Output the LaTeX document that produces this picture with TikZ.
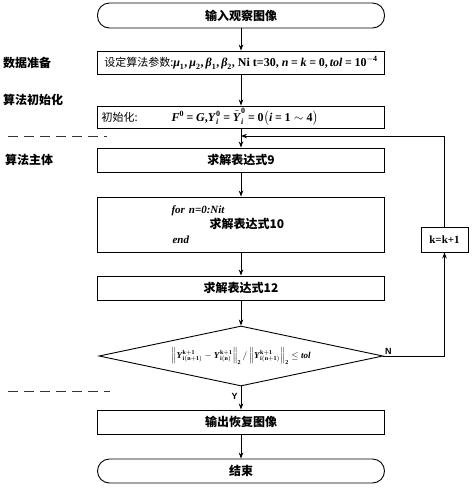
\documentclass[tikz,border=0pt]{standalone}
\usepackage{fontspec}
\usepackage{amsmath,amssymb}
\setmainfont{Liberation Serif}
\newfontfamily\cjk{Noto Sans CJK SC}
\newfontfamily\labfont{Liberation Sans}
\usetikzlibrary{shapes.geometric}
\usetikzlibrary{positioning}
\usetikzlibrary{arrows.meta}
\tikzset{
    stepbox/.style = {rectangle, draw=black, line width=0.9pt, minimum width=287pt, minimum height=24pt, inner sep=2pt, align=center, font=\cjk\bfseries\fontsize{12}{14}\selectfont},
    termbox/.style = {stepbox, rounded corners=12pt},
    checkbox/.style = {diamond, draw=black, line width=0.9pt, minimum width=284pt, minimum height=60pt, inner sep=0pt},
    incbox/.style = {rectangle, draw=black, line width=0.9pt, minimum width=47pt, minimum height=25pt, inner sep=1pt, font=\bfseries\fontsize{11}{13}\selectfont},
    sidelabel/.style = {anchor=west, inner sep=0pt, font=\cjk\bfseries\fontsize{12}{14}\selectfont},
    yesno/.style = {inner sep=1pt, font=\labfont\bfseries\fontsize{9}{11}\selectfont},
    arr/.style = {-{Stealth[length=6pt,width=4.5pt]}, line width=0.8pt, black},
    sep/.style = {line width=0.8pt, black!80, dash pattern=on 10pt off 6pt}
}
% bold italic Times-like symbols
\newcommand{\bv}[1]{\textbf{\textit{#1}}}
\newcommand{\bn}[1]{\textbf{#1}}
\newcommand{\paramtext}{{\mdseries\fontsize{11}{13}\selectfont 设定算法参数:}{\rmfamily\fontsize{12}{14}\selectfont
  $\bv{μ}_{\mathbf{1}}\bn{,}\,\bv{μ}_{\mathbf{2}}\bn{,}\,\bv{β}_{\mathbf{1}}\bn{,}\,\bv{β}_{\mathbf{2}}$\bn{, Ni t=30, }$\bv{n}\mathbin{\bn{=}}\bv{k}\mathbin{\bn{=}}\bn{0}\bn{,}\,\bv{tol}\mathbin{\bn{=}}\bn{10}^{\mathbf{-4}}$}}
\newcommand{\inittext}{{\mdseries\fontsize{11}{13}\selectfont 初始化:\hspace{34pt}}{\rmfamily\fontsize{12}{14}\selectfont
  $\bv{F}^{\mathbf{0}}\mathbin{\bn{=}}\bv{G}\bn{,}\bv{Y}_{\bv{i}}^{\mathbf{0}}\mathbin{\bn{=}}\tilde{\bv{Y}}_{\bv{i}}^{\mathbf{0}}\mathbin{\bn{=}}\bn{0}\bigl(\bv{i}\mathbin{\bn{=}}\bn{1}\sim\bn{4}\bigr)$}}
\newcommand{\normtext}{{\rmfamily\fontsize{9}{11}\selectfont
  $\Bigl\|\bv{Y}^{\mathbf{k+1}}_{\mathbf{i(n+1)}}-\bv{Y}^{\mathbf{k+1}}_{\mathbf{i(n)}}\Bigr\|_{\mathbf{2}}\,/\,\Bigl\|\bv{Y}^{\mathbf{k+1}}_{\mathbf{i(n+1)}}\Bigr\|_{\mathbf{2}}\le\bv{tol}$}}

\begin{document}
\begin{tikzpicture}[x=1pt, y=-1pt]
  \useasboundingbox (0,0) rectangle (474,488);
  % main column
  \node[termbox, minimum height=25pt] (start) at (241,15.5) {输入观察图像};
  \node[stepbox, minimum height=23pt, inner xsep=1pt] (param) at (241,62.5) {\paramtext};
  \node[stepbox, minimum height=22pt, text width=279pt, align=left] (init) at (241,117) {\inittext};
  \node[stepbox] (solve9) at (241,160) {求解表达式9};
  \node[stepbox, minimum height=55pt, inner xsep=0pt, text width=287pt, align=left] (loop) at (241,224.5)
    {\hspace*{74pt}{\rmfamily\itshape\fontsize{11}{13}\selectfont for n=0:Nit}\\[1pt]
     \hspace*{112pt}求解表达式10\\[1pt]
     \hspace*{75pt}{\rmfamily\itshape\fontsize{11}{13}\selectfont end}};
  \node[stepbox] (solve12) at (241,288) {求解表达式12};
  \node[checkbox] (chk) at (241,356) {};
  \node[inner sep=0pt] (chktext) at (chk.center) {\normtext};
  \node[stepbox] (out) at (241,422) {输出恢复图像};
  \node[termbox] (stop) at (241,471) {结束};
  % loop back
  \node[incbox] (kinc) at (444.5,239.5) {k=k+1};
  \coordinate (join) at (241,136);
  % side labels
  \node[sidelabel] (lprep) at (3,63) {数据准备};
  \node[sidelabel] (linit) at (3,100) {算法初始化};
  \node[sidelabel] (lmain) at (5,160) {算法主体};
  \draw[sep] (8,136) -- (107,136);
  \draw[sep] (8,391) -- (110,391);
  % connectors
  \draw[arr] (start) -- (param);
  \draw[arr] (param) -- (init);
  \draw[arr] (init) -- (solve9);
  \draw[arr] (solve9) -- (loop);
  \draw[arr] (loop) -- (solve12);
  \draw[arr] (solve12) -- (chk);
  \draw[arr] (chk) -- node[yesno, pos=0.45, left=2pt] {Y} (out);
  \draw[arr] (out) -- (stop);
  \draw[arr] (chk.east) -| node[yesno, pos=0.04, above] {N} (kinc.south);
  \draw[arr] (kinc.north) |- (join);
\end{tikzpicture}
\end{document}
